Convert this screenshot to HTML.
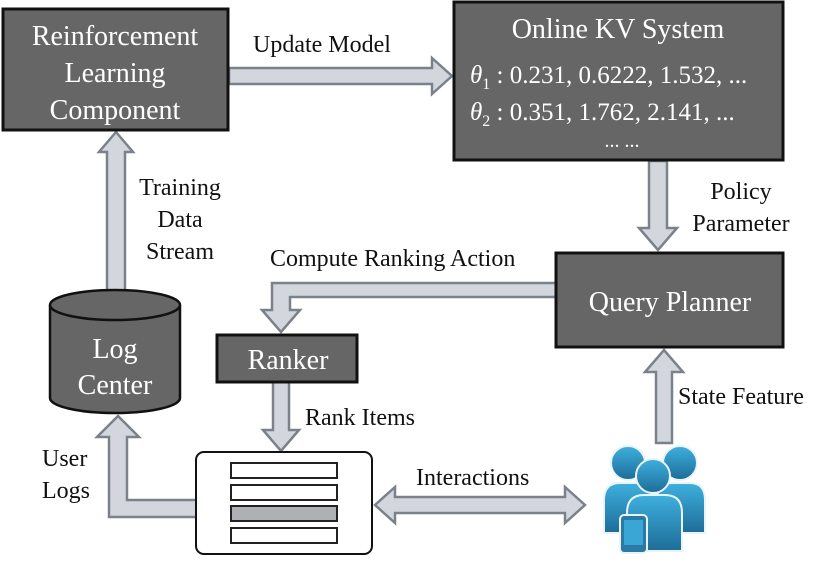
<!DOCTYPE html>
<html><head><meta charset="utf-8"><style>
html,body{margin:0;padding:0;background:#fff;}
svg{display:block;}
svg text{font-family:"Liberation Serif","Times New Roman","DejaVu Serif",serif;}
</style></head><body>
<svg width="821" height="568" viewBox="0 0 821 568" xmlns="http://www.w3.org/2000/svg" font-family="Liberation Serif, Times New Roman, DejaVu Serif, serif">
<defs>
<linearGradient id="bl" x1="0" y1="0" x2="0" y2="1">
<stop offset="0" stop-color="#3fb0de"/><stop offset="1" stop-color="#1d6c97"/>
</linearGradient>
</defs>
<g fill="#d3d7dd" stroke="#7b818b" stroke-width="2.5" stroke-linejoin="miter">
<polygon points="229,68 432,68 432,58 452,76 432,94 432,84 229,84"/>
<polygon points="107,300 107,152 99,152 116,132 133,152 125,152 125,300"/>
<polygon points="649,161 667,161 667,228 677,228 658,250 639,228 649,228"/>
<polygon points="556,283 272,283 272,310 262,310 281,332 300,310 290,310 290,297 556,297"/>
<polygon points="273,382 289,382 289,430 299,430 281,451 263,430 273,430"/>
<polygon points="375,505 395,487 395,497 565,497 565,487 585,505 565,523 565,513 395,513 395,523"/>
<polygon points="656,443 656,372 645,372 664,350 683,372 672,372 672,443"/>
<polygon points="197,500 127,500 127,437 139,437 118,416 97,437 109,437 109,517 197,517"/>
</g>
<rect x="3" y="9" width="225" height="121" fill="#666" stroke="#111" stroke-width="3"/>
<g fill="#fff" font-size="28" text-anchor="middle">
<text x="115" y="45">Reinforcement</text>
<text x="115" y="82">Learning</text>
<text x="115" y="119">Component</text>
</g>
<rect x="454" y="2" width="329" height="158" fill="#666" stroke="#111" stroke-width="3"/>
<g fill="#fff">
<text x="618" y="38" font-size="28" text-anchor="middle">Online KV System</text>
<text x="470" y="83" font-size="25"><tspan font-style="italic">θ</tspan><tspan font-size="16" dy="6">1</tspan><tspan dy="-6"> : 0.231, 0.6222, 1.532, ...</tspan></text>
<text x="470" y="120" font-size="25"><tspan font-style="italic">θ</tspan><tspan font-size="16" dy="6">2</tspan><tspan dy="-6"> : 0.351, 1.762, 2.141, ...</tspan></text>
<text x="622" y="147" font-size="20" text-anchor="middle">... ...</text>
</g>
<rect x="556" y="253" width="227" height="94" fill="#666" stroke="#111" stroke-width="3"/>
<text x="670" y="311" fill="#fff" font-size="28" text-anchor="middle">Query Planner</text>
<rect x="217" y="335" width="140" height="47" fill="#666" stroke="#111" stroke-width="3"/>
<text x="288" y="369" fill="#fff" font-size="28" text-anchor="middle">Ranker</text>
<path d="M50,305 L50,398 A65,15 0 0 0 180,398 L180,305" fill="#666" stroke="#111" stroke-width="2.5"/>
<ellipse cx="115" cy="305" rx="65" ry="15" fill="#666" stroke="#111" stroke-width="2.5"/>
<g fill="#fff" font-size="28" text-anchor="middle">
<text x="115" y="358">Log</text>
<text x="115" y="394">Center</text>
</g>
<rect x="196" y="452" width="176" height="102" rx="8" fill="#fff" stroke="#111" stroke-width="2"/>
<g stroke="#222" stroke-width="2">
<rect x="231" y="463" width="106" height="15" fill="#fff"/>
<rect x="231" y="485" width="106" height="15" fill="#fff"/>
<rect x="231" y="506" width="106" height="15" fill="#aeb0b4"/>
<rect x="231" y="528" width="106" height="15" fill="#fff"/>
</g>
<g stroke="#e8f4fa" stroke-width="2" fill="url(#bl)">
<path d="M604,533 L604,500 Q604,483 620,483 L640,483 Q655,483 655,500 L655,533 Z"/>
<circle cx="628" cy="463" r="17"/>
<path d="M657,533 L657,500 Q657,483 672,483 L690,483 Q705,483 705,500 L705,533 Z"/>
<circle cx="680" cy="463" r="17"/>
<path d="M627,551 L627,513 Q627,495 644,495 L665,495 Q682,495 682,513 L682,551 Z"/>
<circle cx="653" cy="476" r="17"/>
<rect x="620" y="515" width="27" height="38" rx="4" fill="#2a7aa5"/>
<rect x="624" y="520" width="19" height="25" fill="#3aa6d6" stroke="none"/>
</g>
<g fill="#111" font-size="24">
<text x="253" y="52">Update Model</text>
<text x="180" y="195" text-anchor="middle">Training</text>
<text x="180" y="227" text-anchor="middle">Data</text>
<text x="180" y="259" text-anchor="middle">Stream</text>
<text x="741" y="199" text-anchor="middle">Policy</text>
<text x="741" y="231" text-anchor="middle">Parameter</text>
<text x="270" y="266">Compute Ranking Action</text>
<text x="305" y="425">Rank Items</text>
<text x="416" y="485">Interactions</text>
<text x="678" y="404">State Feature</text>
<text x="42" y="466">User</text>
<text x="42" y="498">Logs</text>
</g>
</svg>
</body></html>
